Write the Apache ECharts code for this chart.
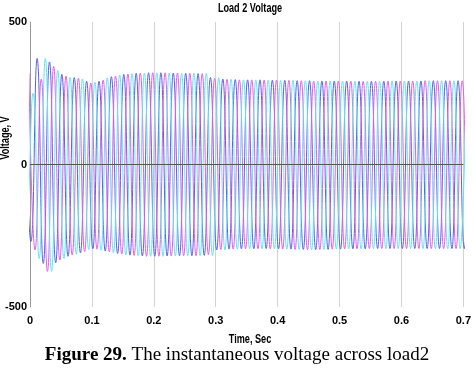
<!DOCTYPE html>
<html>
<head>
<meta charset="utf-8">
<script src="https://cdn.jsdelivr.net/npm/echarts@6/dist/echarts.min.js"></script>
<style>
html,body{margin:0;padding:0;background:#fff;}
#c{width:474px;height:372px;}
</style>
</head>
<body>
<div id="c"></div>
<script>
// Time (s) of successive extrema (peak, trough, peak, ...) of phase A
const extremumTimes = [-0.0085, 0.0015, 0.0115, 0.0215, 0.0315, 0.0415, 0.0515, 0.0615, 0.0715, 0.0815,
  0.0915, 0.1015, 0.1115, 0.1215, 0.1315, 0.1415, 0.1515, 0.1615, 0.1715, 0.1815,
  0.1915, 0.2015, 0.2115, 0.2215, 0.2315, 0.2415, 0.2515, 0.2615, 0.2715, 0.2815,
  0.2915, 0.3015, 0.3115, 0.3215, 0.3315, 0.3415, 0.3515, 0.3615, 0.3715, 0.3815,
  0.3915, 0.4015, 0.4115, 0.4215, 0.4315, 0.4415, 0.4515, 0.4615, 0.4715, 0.4815,
  0.4915, 0.5015, 0.5115, 0.5215, 0.5315, 0.5415, 0.5515, 0.5615, 0.5715, 0.5815,
  0.5915, 0.6015, 0.6115, 0.6215, 0.6315, 0.6415, 0.6515, 0.6615, 0.6715, 0.6815,
  0.6915, 0.7015, 0.7115];
// phase shift (s) of each phase relative to phase A
const phaseLag = [0, 0.0067, -0.0067];

// extremum voltages (V) for each phase
const phaseA = [200, -270, 372, -347, 360, -345, 316, -322, 305, -310,
  292, -296, 292, -304, 308, -312, 316, -318, 320, -321,
  322, -322, 322, -321, 321, -320, 320, -320, 319, -319,
  305, -300, 300, -297, 298, -296, 297, -296, 297, -295,
  296, -296, 295, -297, 294, -298, 294, -299, 293, -298,
  293, -297, 293, -296, 292, -296, 292, -295, 292, -295,
  293, -295, 293, -295, 293, -295, 294, -295, 294, -295,
  294, -295, 294];
const phaseB = [320, -300, 300, -375, 344, -335, 310, -318, 303, -305,
  286, -297, 296, -306, 310, -314, 317, -319, 321, -322,
  322, -322, 322, -321, 321, -320, 320, -320, 319, -316,
  302, -298, 299, -297, 297, -296, 297, -296, 296, -296,
  296, -297, 295, -298, 294, -299, 293, -298, 293, -297,
  293, -296, 292, -296, 292, -295, 292, -295, 293, -295,
  293, -295, 293, -295, 294, -295, 294, -295, 294, -295,
  294, -295, 294];
const phaseC = [150, -150, 250, -330, 372, -375, 330, -330, 306, -315,
  300, -298, 288, -301, 304, -310, 314, -317, 319, -320,
  321, -322, 322, -322, 321, -321, 320, -320, 320, -320,
  320, -320, 304, -300, 299, -297, 297, -296, 297, -296,
  296, -296, 295, -297, 295, -298, 294, -299, 293, -298,
  293, -297, 293, -296, 292, -296, 292, -295, 292, -295,
  293, -295, 293, -295, 293, -295, 294, -295, 294, -295,
  294, -295, 294];

const xTicks = [0, 0.1, 0.2, 0.3, 0.4, 0.5, 0.6, 0.7];
const yTicks = [-500, 0, 500];

const phases = [phaseA, phaseB, phaseC];
const colors = ['#5f5fe6', '#e35fe0', '#5fe6f0'];

const SANS = "'Liberation Sans',Arial,sans-serif";
const SERIF = '"Liberation Serif","Times New Roman",serif';

function pts(vals, lag) {
  return vals.map((v, i) => [+(extremumTimes[i] + lag).toFixed(4), v]);
}

const series = phases.map((vals, k) => ({
  type: 'line',
  data: pts(vals, phaseLag[k]),
  smooth: 0.5,
  showSymbol: false,
  symbol: 'none',
  clip: true,
  animation: false,
  lineStyle: { color: colors[k], width: 1 },
  silent: true
}));
series.push({
  type: 'line',
  data: [],
  animation: false,
  markLine: {
    silent: true,
    symbol: 'none',
    label: { show: false },
    lineStyle: { color: '#555', width: 1, type: 'solid' },
    data: [{ yAxis: 0 }]
  }
});

const chart = echarts.init(document.getElementById('c'), null, { renderer: 'canvas' });
chart.setOption({
  animation: false,
  backgroundColor: '#fff',
  grid: { left: 30, right: 4, top: 22, bottom: 65, containLabel: false },
  xAxis: {
    type: 'value', min: xTicks[0], max: xTicks[xTicks.length - 1], interval: 0.1,
    axisLine: { show: false }, axisTick: { show: false },
    splitLine: { show: true, lineStyle: { color: '#d4d4d4', width: 1 } },
    axisLabel: { color: '#000', fontWeight: 'bold', fontSize: 11, fontFamily: SANS, margin: 8,
      formatter: v => String(+v.toFixed(1)) }
  },
  yAxis: {
    type: 'value', min: yTicks[0], max: yTicks[yTicks.length - 1], interval: 500,
    axisLine: { show: true, lineStyle: { color: '#999', width: 1 } },
    axisTick: { show: false },
    splitLine: { show: false },
    axisLabel: { color: '#000', fontWeight: 'bold', fontSize: 11, fontFamily: SANS, margin: 3 }
  },
  series: series,
  graphic: [
    { type: 'text', x: 250, y: 9, scaleX: 0.76, style: { text: 'Load 2 Voltage', fill: '#000',
      font: 'bold 12px ' + SANS, align: 'center', verticalAlign: 'middle' } },
    { type: 'text', x: 250, y: 340, scaleX: 0.76, style: { text: 'Time, Sec', fill: '#000',
      font: 'bold 12px ' + SANS, align: 'center', verticalAlign: 'middle' } },
    { type: 'text', x: 6, y: 138, rotation: Math.PI / 2, scaleX: 0.76, style: { text: 'Voltage, V', fill: '#000',
      font: 'bold 12px ' + SANS, align: 'center', verticalAlign: 'middle' } },
    { type: 'text', x: 237, y: 355, style: {
      text: '{b|Figure 29.} The instantaneous voltage across load2',
      fill: '#000', font: '19px ' + SERIF,
      align: 'center', verticalAlign: 'middle',
      rich: { b: { fontWeight: 'bold', fontSize: 19, fontFamily: SERIF } } } }
  ]
});
</script>
</body>
</html>
